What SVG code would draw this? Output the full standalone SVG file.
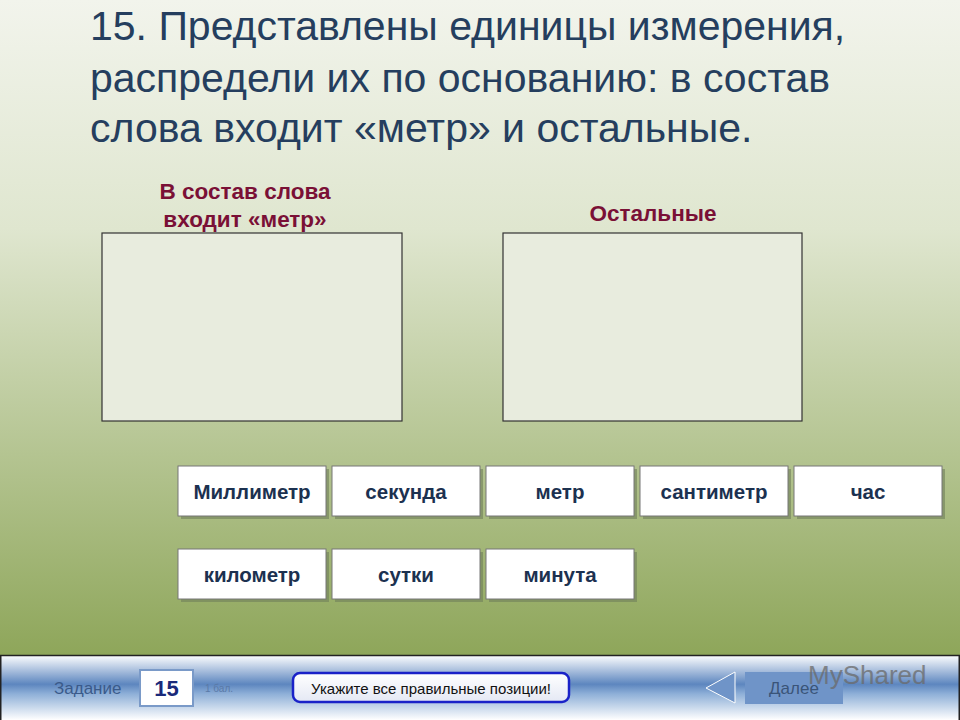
<svg xmlns="http://www.w3.org/2000/svg" width="960" height="720" viewBox="0 0 960 720">
<defs>
<linearGradient id="bg" x1="0" y1="0" x2="0" y2="1"><stop offset="0" stop-color="#f2f4ec"/><stop offset="0.35" stop-color="#dfe6cf"/><stop offset="1" stop-color="#8ea65a"/></linearGradient>
<linearGradient id="bar" x1="0" y1="0" x2="0" y2="1"><stop offset="0" stop-color="#ffffff"/><stop offset="0.45" stop-color="#5d86bf"/><stop offset="0.6" stop-color="#8fb0d8"/><stop offset="1" stop-color="#ffffff"/></linearGradient>
<linearGradient id="btn" x1="0" y1="0" x2="0" y2="1"><stop offset="0" stop-color="#ffffff"/><stop offset="1" stop-color="#e4e8f4"/></linearGradient>
<style>
.t{font-family:"Liberation Sans",Arial,sans-serif}
.title{font-size:41px;fill:#253e5e}
.hd{font-size:22.5px;font-weight:bold;fill:#7a1036;text-anchor:middle}
.box{fill:#e8ecde;stroke:#333;stroke-width:1.2}
.tile rect.f{fill:#fff;stroke:#777;stroke-width:1}
.tile rect.s{fill:#6f7f5a;opacity:.6}
.tile text{font-size:20.5px;font-weight:bold;fill:#1c3150;text-anchor:middle}
</style>
</defs>
<rect width="960" height="655" fill="url(#bg)"/>
<g id="title" class="t title">
<text x="90" y="40">15. Представлены единицы измерения,</text>
<text x="90" y="92">распредели их по основанию: в состав</text>
<text x="90" y="142">слова входит «метр» и остальные.</text>
</g>
<g id="col1"><text class="t hd" x="245" y="199">В состав слова</text><text class="t hd" x="245" y="227">входит «метр»</text><rect class="box" x="102" y="233" width="300" height="188"/></g>
<g id="col2"><text class="t hd" x="653" y="221">Остальные</text><rect class="box" x="503" y="233" width="299" height="188"/></g>
<g id="tiles" class="t">
<g class="tile" id="n1"><rect class="s" x="181" y="469" width="148" height="50"/><rect class="f" x="178" y="466" width="148" height="50"/><text x="252" y="499">Миллиметр</text></g>
<g class="tile" id="n2"><rect class="s" x="335" y="469" width="148" height="50"/><rect class="f" x="332" y="466" width="148" height="50"/><text x="406" y="499">секунда</text></g>
<g class="tile" id="n3"><rect class="s" x="489" y="469" width="148" height="50"/><rect class="f" x="486" y="466" width="148" height="50"/><text x="560" y="499">метр</text></g>
<g class="tile" id="n4"><rect class="s" x="643" y="469" width="148" height="50"/><rect class="f" x="640" y="466" width="148" height="50"/><text x="714" y="499">сантиметр</text></g>
<g class="tile" id="n5"><rect class="s" x="797" y="469" width="148" height="50"/><rect class="f" x="794" y="466" width="148" height="50"/><text x="868" y="499">час</text></g>
<g class="tile" id="n6"><rect class="s" x="181" y="552" width="148" height="50"/><rect class="f" x="178" y="549" width="148" height="50"/><text x="252" y="582">километр</text></g>
<g class="tile" id="n7"><rect class="s" x="335" y="552" width="148" height="50"/><rect class="f" x="332" y="549" width="148" height="50"/><text x="406" y="582">сутки</text></g>
<g class="tile" id="n8"><rect class="s" x="489" y="552" width="148" height="50"/><rect class="f" x="486" y="549" width="148" height="50"/><text x="560" y="582">минута</text></g>
</g>
<g id="connectors"/>
<g id="footer" class="t">
<rect x="0" y="655" width="960" height="65" fill="url(#bar)"/>
<line x1="0" y1="655.5" x2="960" y2="655.5" stroke="#222" stroke-width="1.5"/>
<line x1="0.75" y1="655" x2="0.75" y2="720" stroke="#222" stroke-width="1.5"/>
<line x1="959.25" y1="655" x2="959.25" y2="720" stroke="#222" stroke-width="1.5"/>
<text x="54" y="694" font-size="17" fill="#3a5a8a">Задание</text>
<rect x="140" y="670" width="53" height="36" fill="#fff" stroke="#7a9ac8" stroke-width="2"/>
<text x="166.5" y="696" font-size="22" font-weight="bold" fill="#1a2a7a" text-anchor="middle">15</text>
<text x="205" y="692" font-size="10" fill="#5a7aa8">1 бал.</text>
<rect x="293" y="673" width="276" height="29" rx="7" fill="url(#btn)" stroke="#1a22c8" stroke-width="2.5"/>
<text x="431" y="694" font-size="15" fill="#111" text-anchor="middle">Укажите все правильные позиции!</text>
<polygon points="735,672 735,703 706,688" fill="#6f94c8" stroke="#fff" stroke-width="1"/>
<rect x="745" y="672" width="98" height="32" fill="#6f94c8"/>
<text x="794" y="694" font-size="17" fill="#3a5478" text-anchor="middle">Далее</text>
<text x="808" y="684" font-size="26" fill="#6a6a6a" opacity="0.75">MyShared</text>
</g>
</svg>
